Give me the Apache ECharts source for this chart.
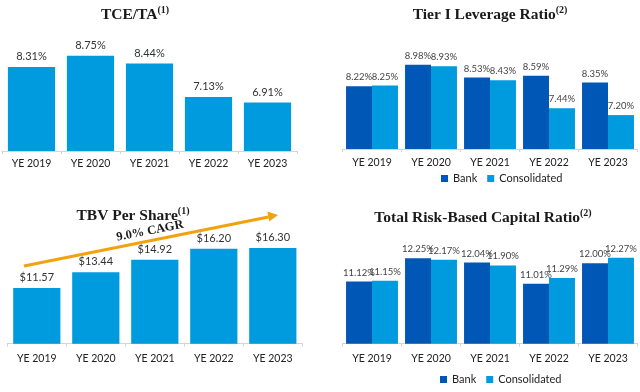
<!DOCTYPE html>
<html>
<head>
<meta charset="utf-8">
<script src="https://cdn.jsdelivr.net/npm/echarts@6/dist/echarts.min.js"></script>
<style>
html,body{margin:0;padding:0;background:#fff;}
#c{width:640px;height:392px;}
</style>
</head>
<body>
<div id="c"></div>
<script>
const categories = ['YE 2019', 'YE 2020', 'YE 2021', 'YE 2022', 'YE 2023'];
const tceTa = [8.31, 8.75, 8.44, 7.13, 6.91];
const tbvPerShare = [11.57, 13.44, 14.92, 16.20, 16.30];
const tier1Bank = [8.22, 8.98, 8.53, 8.59, 8.35];
const tier1Consolidated = [8.25, 8.93, 8.43, 7.44, 7.20];
const trbcBank = [11.12, 12.25, 12.04, 11.01, 12.00];
const trbcConsolidated = [11.15, 12.17, 11.90, 11.29, 12.27];
const legendNames = ['Bank', 'Consolidated'];
const cagrLabel = '9.0% CAGR';

const LIGHT = '#009ade';
const DARK = '#0057b6';
const ORANGE = '#f1a20c';
const SANS = 'Lato';
const SERIF = 'Liberation Serif';

const chart = echarts.init(document.getElementById('c'), null, {renderer: 'canvas'});

function mkTitle(main, sup, cx, cy) {
  return {
    text: '{m|' + main + '}{s|' + sup + '}',
    left: cx, top: cy - 10, textAlign: 'center', padding: 0,
    textStyle: {
      rich: {
        m: {fontFamily: SERIF, fontWeight: 'bold', fontSize: 15.5, color: '#1a1a1a', lineHeight: 20},
        s: {fontFamily: SERIF, fontWeight: 'bold', fontSize: 10, color: '#1a1a1a', lineHeight: 16, verticalAlign: 'top'}
      }
    }
  };
}

function xAx(gi, margin) {
  return {
    type: 'category', gridIndex: gi, data: categories,
    axisLine: {lineStyle: {color: '#d4d4d4', width: 1}},
    axisTick: {show: true, length: 3, lineStyle: {color: '#d4d4d4'}},
    axisLabel: {fontFamily: SANS, fontSize: 10.5, color: '#222', margin: margin}
  };
}
function yAx(gi, min, max) {
  return {type: 'value', gridIndex: gi, min: min, max: max, show: false, splitLine: {show: false}};
}
const pct = p => p.value.toFixed(2) + '%';
const usd = p => '$' + p.value.toFixed(2);

const option = {
  backgroundColor: '#fff',
  animation: false,
  title: [
    mkTitle('TCE/TA', '(1)', 135, 15),
    mkTitle('Tier I Leverage Ratio', '(2)', 490, 15),
    mkTitle('TBV Per Share', '(1)', 133, 216),
    mkTitle('Total Risk-Based Capital Ratio', '(2)', 483, 218)
  ],
  legend: [
    {data: legendNames, left: 441, top: 173, padding: 0, itemWidth: 7, itemHeight: 7, itemGap: 10, icon: 'rect',
     textStyle: {fontFamily: SANS, fontSize: 11, color: '#222'}},
    {data: legendNames, left: 440, top: 374, padding: 0, itemWidth: 7, itemHeight: 7, itemGap: 10, icon: 'rect',
     textStyle: {fontFamily: SANS, fontSize: 11, color: '#222'}}
  ],
  grid: [
    {left: 2, top: 24, width: 295, height: 127},
    {left: 342.5, top: 36, width: 295, height: 113},
    {left: 7.3, top: 216.7, width: 295, height: 127},
    {left: 342.5, top: 220.1, width: 295, height: 123.6}
  ],
  xAxis: [xAx(0, 7), xAx(1, 8), xAx(2, 9), xAx(3, 9)],
  yAxis: [yAx(0, 5, 10), yAx(1, 6, 10), yAx(2, 5, 20), yAx(3, 8.1, 14.1)],
  series: [
    {type: 'bar', xAxisIndex: 0, yAxisIndex: 0, data: tceTa, barCategoryGap: '20%',
     itemStyle: {color: LIGHT},
     label: {show: true, position: 'top', distance: 5, formatter: pct, fontFamily: SANS, fontSize: 11, color: '#333'}},
    {type: 'bar', name: 'Bank', xAxisIndex: 1, yAxisIndex: 1, data: tier1Bank, barCategoryGap: '12%', barGap: '0%',
     itemStyle: {color: DARK},
     label: {show: true, position: 'top', distance: 4, formatter: pct, fontFamily: SANS, fontSize: 9.5, color: '#444'}},
    {type: 'bar', name: 'Consolidated', xAxisIndex: 1, yAxisIndex: 1, data: tier1Consolidated, barCategoryGap: '12%', barGap: '0%',
     itemStyle: {color: LIGHT},
     label: {show: true, position: 'top', distance: 4, formatter: pct, fontFamily: SANS, fontSize: 9.5, color: '#444'}},
    {type: 'bar', xAxisIndex: 2, yAxisIndex: 2, data: tbvPerShare, barCategoryGap: '20%',
     itemStyle: {color: LIGHT},
     label: {show: true, position: 'top', distance: 5, formatter: usd, fontFamily: SANS, fontSize: 11, color: '#333'}},
    {type: 'bar', name: 'Bank', xAxisIndex: 3, yAxisIndex: 3, data: trbcBank, barCategoryGap: '12%', barGap: '0%',
     itemStyle: {color: DARK},
     label: {show: true, position: 'top', distance: 4, formatter: pct, fontFamily: SANS, fontSize: 9.5, color: '#444'}},
    {type: 'bar', name: 'Consolidated', xAxisIndex: 3, yAxisIndex: 3, data: trbcConsolidated, barCategoryGap: '12%', barGap: '0%',
     itemStyle: {color: LIGHT},
     label: {show: true, position: 'top', distance: 4, formatter: pct, fontFamily: SANS, fontSize: 9.5, color: '#444'}}
  ],
  graphic: [
    {type: 'line', shape: {x1: 24, y1: 266, x2: 268.5, y2: 217}, style: {stroke: ORANGE, lineWidth: 3}, z: 100},
    {type: 'polygon', shape: {points: [[278, 215], [269.3, 221.4], [267.3, 211.6]]}, style: {fill: ORANGE}, z: 100},
    {type: 'text', x: 150, y: 231, rotation: 11.3 * Math.PI / 180, z: 100,
     style: {text: cagrLabel, fontFamily: SERIF, fontWeight: 'bold', fontSize: 12.5, fill: '#1a1a1a', align: 'center', verticalAlign: 'middle'}}
  ]
};
chart.setOption(option);
</script>
</body>
</html>
